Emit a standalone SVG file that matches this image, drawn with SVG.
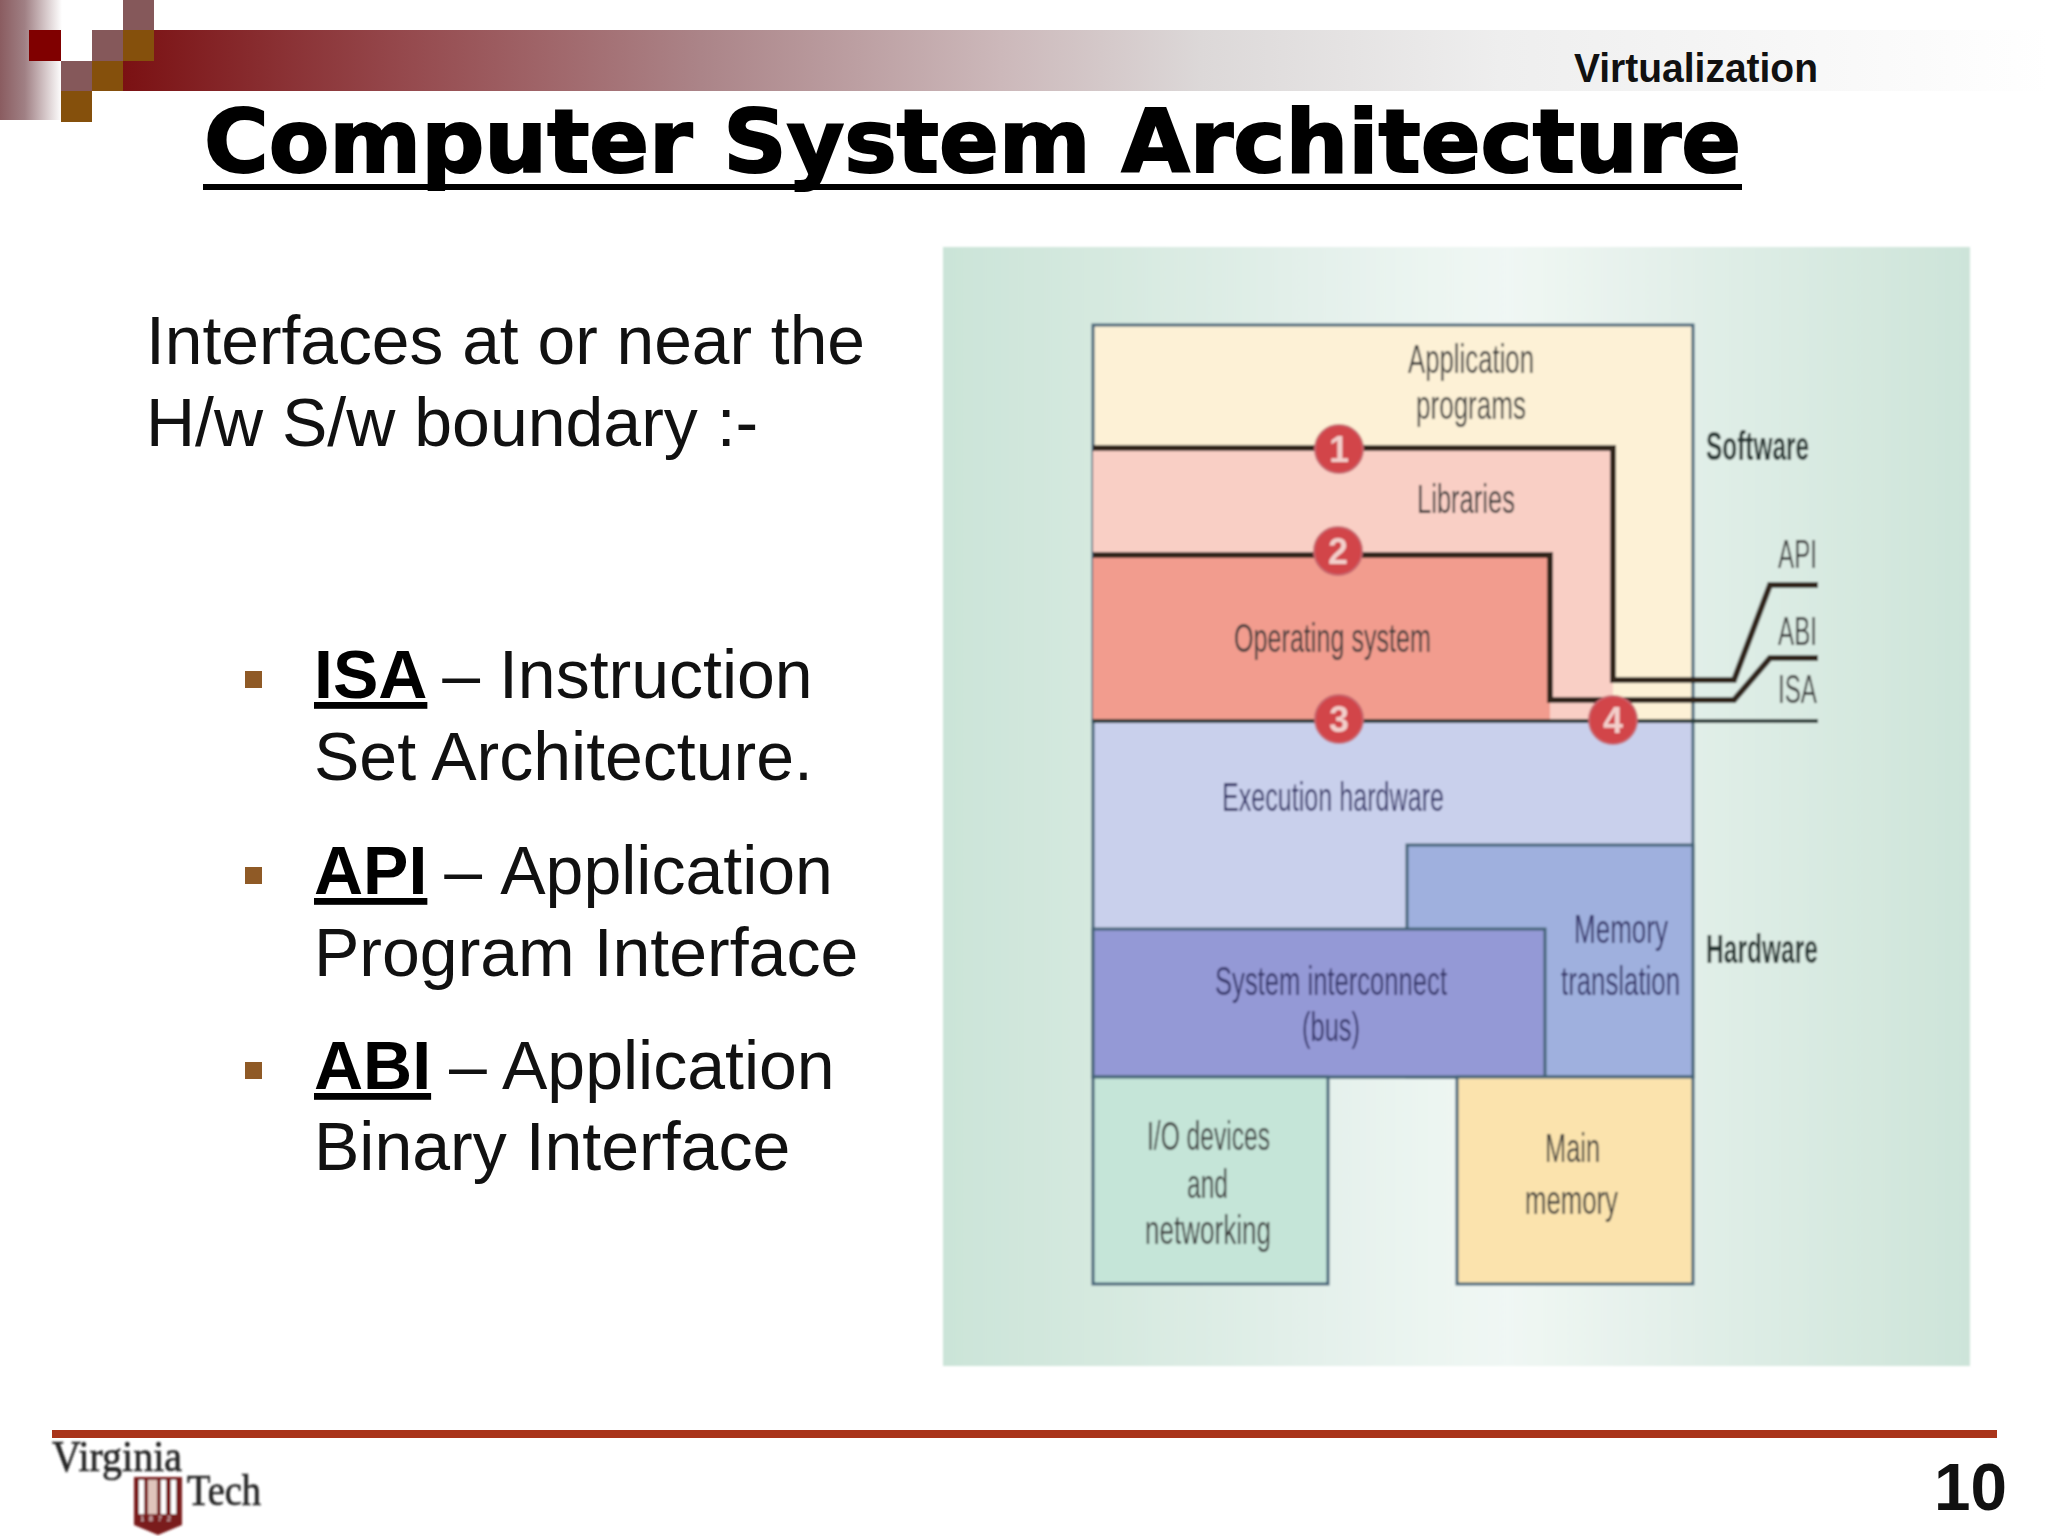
<svg xmlns="http://www.w3.org/2000/svg" width="2048" height="1536" viewBox="0 0 2048 1536">
<style>
.body{font-family:"Liberation Sans",Arial,sans-serif;font-size:68px;fill:#111}
.key{font-weight:bold;text-decoration:underline;text-decoration-skip-ink:none;fill:#000}
.lbl{font-family:"Liberation Sans",Arial,sans-serif;font-size:40px;fill:#3a3a3a}
.dk{fill:#34346a}
.side{font-family:"Liberation Sans",Arial,sans-serif;font-size:40px;font-weight:bold;fill:#263432}
.num{font-family:"Liberation Sans",Arial,sans-serif;font-size:36px;font-weight:bold;fill:#f3cfcb;text-anchor:middle}
.line{fill:none;stroke:#33251f;stroke-width:6}
.thin{fill:none;stroke:#2c3a38;stroke-width:4}
.box{stroke:#456478;stroke-width:3}
.badge{fill:#d2444a;stroke:#c8666e;stroke-width:2}
.bullet{fill:#8f5a26}
.sqa{fill:#85585a}
.sqb{fill:#85500c}
</style>
<defs>
<linearGradient id="bar" x1="0" x2="1" y1="0" y2="0"><stop offset="0" stop-color="#7b1113"/><stop offset="0.144" stop-color="#95484c"/><stop offset="0.3" stop-color="#ab8488"/><stop offset="0.456" stop-color="#ccb8ba"/><stop offset="0.56" stop-color="#dcd8d8"/><stop offset="0.715" stop-color="#eeeeee"/><stop offset="1" stop-color="#ffffff"/></linearGradient>
<linearGradient id="fade" x1="0" x2="1" y1="0" y2="0"><stop offset="0" stop-color="#8a5c60"/><stop offset="0.4" stop-color="#a08084"/><stop offset="1" stop-color="#ffffff"/></linearGradient>
<linearGradient id="panel" x1="0" x2="1" y1="0" y2="0"><stop offset="0" stop-color="#cbe4d8"/><stop offset="0.25" stop-color="#dcece4"/><stop offset="0.45" stop-color="#eaf4f0"/><stop offset="0.55" stop-color="#f0f7f4"/><stop offset="0.75" stop-color="#e0eee7"/><stop offset="1" stop-color="#cde4d9"/></linearGradient>
<filter id="soft" x="-5%" y="-5%" width="110%" height="110%"><feGaussianBlur stdDeviation="0.9"/></filter>
</defs>
<rect width="2048" height="1536" fill="#fff"/>
<g id="header">
<rect x="0" y="0" width="62" height="120" fill="url(#fade)"/>
<rect x="123" y="30" width="1925" height="61" fill="url(#bar)"/>
<rect x="29" y="30" width="32" height="31" fill="#800000"/>
<rect x="61" y="30" width="31" height="31" fill="#fff"/>
<rect x="123" y="0" width="31" height="30" class="sqa"/>
<rect x="92" y="30" width="31" height="31" class="sqa"/>
<rect x="123" y="30" width="31" height="31" class="sqb"/>
<rect x="61" y="61" width="31" height="30" class="sqa"/>
<rect x="92" y="61" width="31" height="30" class="sqb"/>
<rect x="61" y="91" width="31" height="31" class="sqb"/>
<text x="1574" y="82" font-family="Liberation Sans, Arial, sans-serif" font-size="40" font-weight="bold" fill="#111" textLength="244" lengthAdjust="spacingAndGlyphs">Virtualization</text>
</g>
<g id="title">
<text x="204" y="172" font-family="DejaVu Sans, Verdana, sans-serif" font-size="88" font-weight="bold" fill="#000" stroke="#000" stroke-width="2" textLength="1537" lengthAdjust="spacingAndGlyphs">Computer System Architecture</text>
<rect x="203" y="184" width="1539" height="6" fill="#000"/>
</g>
<g id="body-text">
<text class="body" x="146" y="364" textLength="719" lengthAdjust="spacingAndGlyphs">Interfaces at or near the</text>
<text class="body" x="146" y="446">H/w S/w boundary :-</text>
<rect class="bullet" x="245" y="671" width="17" height="17"/>
<text class="body" x="314" y="698"><tspan class="key">ISA</tspan><tspan dx="-4"> – Instruction</tspan></text>
<text class="body" x="314" y="780">Set Architecture.</text>
<rect class="bullet" x="245" y="867" width="17" height="17"/>
<text class="body" x="314" y="894"><tspan class="key">API</tspan><tspan dx="-2"> –</tspan><tspan dx="3"> Application</tspan></text>
<text class="body" x="314" y="976">Program Interface</text>
<rect class="bullet" x="245" y="1062" width="17" height="17"/>
<text class="body" x="314" y="1089"><tspan class="key">ABI</tspan><tspan dx="-1"> – Application</tspan></text>
<text class="body" x="314" y="1170">Binary Interface</text>
</g>
<g filter="url(#soft)">
<rect id="panel-bg" x="943" y="247" width="1027" height="1119" fill="url(#panel)"/>
<g id="app-programs">
<rect class="box" x="1093" y="325" width="600" height="396" fill="#fdf1d6"/>
<text class="lbl" x="1408" y="373" textLength="126" lengthAdjust="spacingAndGlyphs">Application</text>
<text class="lbl" x="1416" y="419" textLength="110" lengthAdjust="spacingAndGlyphs">programs</text>
</g>
<g id="libraries">
<path d="M1093 448H1613V721H1093Z" fill="#f9cfc5"/>
<text class="lbl" x="1417" y="513" textLength="98" lengthAdjust="spacingAndGlyphs">Libraries</text>
</g>
<g id="operating-system">
<path d="M1093 555H1550V721H1093Z" fill="#f29c8e"/>
<text class="lbl" x="1234" y="652" textLength="197" lengthAdjust="spacingAndGlyphs">Operating system</text>
</g>
<g id="execution-hardware">
<rect class="box" x="1093" y="721" width="600" height="356" fill="#c9d0ec"/>
<text class="lbl dk" x="1222" y="811" textLength="222" lengthAdjust="spacingAndGlyphs">Execution hardware</text>
</g>
<g id="memory-translation">
<rect class="box" x="1407" y="845" width="286" height="232" fill="#9fb0de"/>
<text class="lbl dk" x="1574" y="943" textLength="94" lengthAdjust="spacingAndGlyphs">Memory</text>
<text class="lbl dk" x="1561" y="995" textLength="119" lengthAdjust="spacingAndGlyphs">translation</text>
</g>
<g id="system-interconnect">
<rect class="box" x="1093" y="929" width="452" height="148" fill="#9499d6"/>
<text class="lbl dk" x="1215" y="995" textLength="232" lengthAdjust="spacingAndGlyphs">System interconnect</text>
<text class="lbl dk" x="1302" y="1041" textLength="58" lengthAdjust="spacingAndGlyphs">(bus)</text>
</g>
<g id="io-devices">
<rect class="box" x="1093" y="1077" width="235" height="207" fill="#c5e5d8"/>
<text class="lbl" x="1147" y="1150" textLength="123" lengthAdjust="spacingAndGlyphs">I/O devices</text>
<text class="lbl" x="1187" y="1198" textLength="41" lengthAdjust="spacingAndGlyphs">and</text>
<text class="lbl" x="1145" y="1244" textLength="126" lengthAdjust="spacingAndGlyphs">networking</text>
</g>
<g id="main-memory">
<rect class="box" x="1457" y="1077" width="236" height="207" fill="#fbe3ad"/>
<text class="lbl" x="1545" y="1162" textLength="55" lengthAdjust="spacingAndGlyphs">Main</text>
<text class="lbl" x="1525" y="1214" textLength="93" lengthAdjust="spacingAndGlyphs">memory</text>
</g>
<g id="connectors">
<path class="line" d="M1093 448H1613V680H1734L1770 585H1818"/>
<path class="line" d="M1093 555H1550V700H1734L1770 658H1818"/>
<path class="thin" d="M1093 721H1818"/>
</g>
<g id="side-labels">
<text class="side" x="1706" y="460" textLength="103" lengthAdjust="spacingAndGlyphs">Software</text>
<text class="side" x="1706" y="963" textLength="112" lengthAdjust="spacingAndGlyphs">Hardware</text>
<text class="lbl" x="1778" y="568" textLength="39" lengthAdjust="spacingAndGlyphs">API</text>
<text class="lbl" x="1778" y="645" textLength="39" lengthAdjust="spacingAndGlyphs">ABI</text>
<text class="lbl" x="1778" y="703" textLength="39" lengthAdjust="spacingAndGlyphs">ISA</text>
</g>
<g id="badge-1"><circle class="badge" cx="1339" cy="449" r="24"/><text class="num" x="1339" y="462">1</text></g>
<g id="badge-2"><circle class="badge" cx="1338" cy="551" r="24"/><text class="num" x="1338" y="564">2</text></g>
<g id="badge-3"><circle class="badge" cx="1339" cy="719" r="24"/><text class="num" x="1339" y="732">3</text></g>
<g id="badge-4"><circle class="badge" cx="1613" cy="720" r="24"/><text class="num" x="1613" y="733">4</text></g>
</g>
<g id="footer">
<rect x="52" y="1430" width="1945" height="8" fill="#a9341a"/>
<text x="1934" y="1510" font-family="Liberation Sans, Arial, sans-serif" font-size="66" font-weight="bold" fill="#111" textLength="73" lengthAdjust="spacingAndGlyphs">10</text>
</g>
<g id="logo" filter="url(#soft)">
<text x="52" y="1471" font-family="Liberation Serif, Times New Roman, serif" font-size="44" fill="#222" stroke="#222" stroke-width="0.6" textLength="130" lengthAdjust="spacingAndGlyphs">Virginia</text>
<text x="187" y="1505" font-family="Liberation Serif, Times New Roman, serif" font-size="44" fill="#222" stroke="#222" stroke-width="0.6" textLength="74" lengthAdjust="spacingAndGlyphs">Tech</text>
<path d="M134 1477H182V1525L158 1535L134 1525Z" fill="#7a1a1e"/>
<rect x="139" y="1480" width="5" height="34" fill="#fff"/>
<rect x="148" y="1480" width="9" height="34" fill="#e0c4bc"/>
<rect x="161" y="1480" width="5" height="34" fill="#fff"/>
<rect x="171" y="1480" width="5" height="34" fill="#fff"/>
<text x="158" y="1521" font-family="Liberation Sans, Arial, sans-serif" font-size="7" fill="#fff" text-anchor="middle" letter-spacing="5">1872</text>
</g>
</svg>
